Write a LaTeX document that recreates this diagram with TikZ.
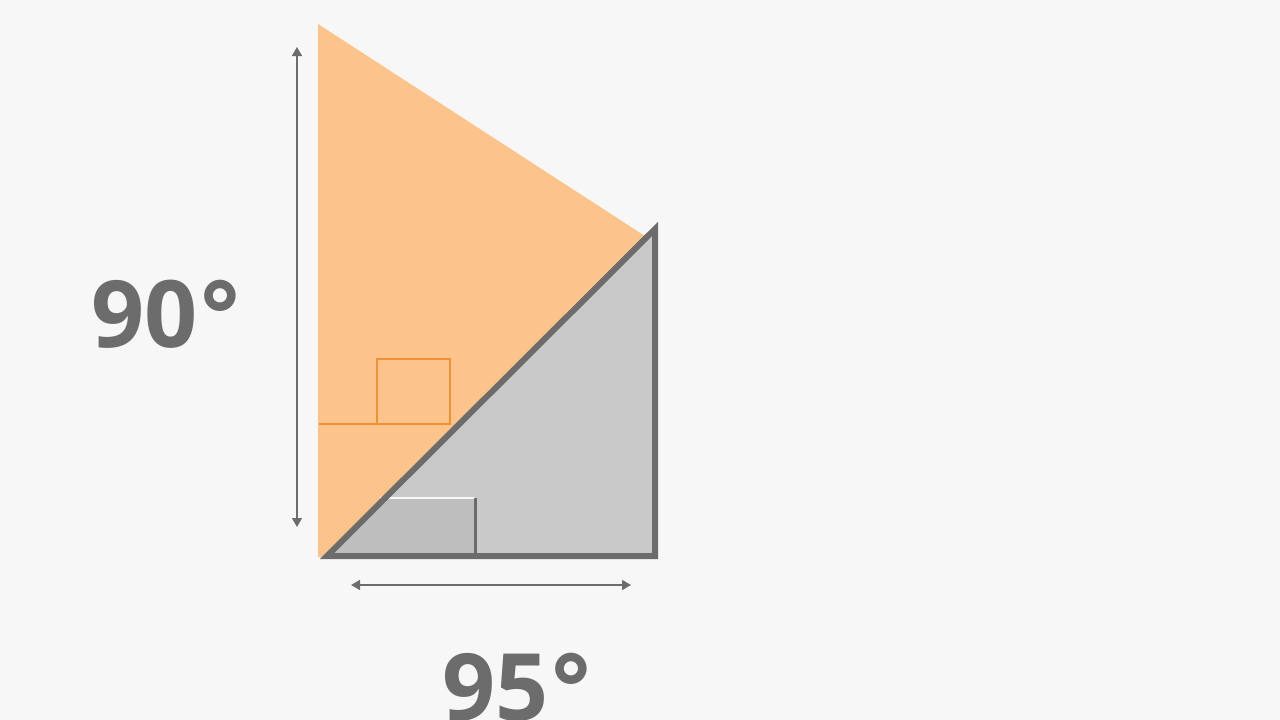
\documentclass[tikz,border=0pt]{standalone}
\usepackage{fontspec}
\setmainfont{Open Sans}
\usetikzlibrary{arrows.meta}
\definecolor{bgc}{HTML}{F7F7F7}
\definecolor{orfill}{HTML}{FCC48B}
\definecolor{orline}{HTML}{EE9233}
\definecolor{gyfill}{HTML}{C9C9C9}
\definecolor{gyin}{HTML}{BEBEBE}
\definecolor{gyline}{HTML}{6C6C6C}
\tikzset{
  dimarrow/.style={draw=gyline, line width=1.6pt, {Triangle[width=10pt,length=9pt]}-{Triangle[width=10pt,length=9pt]}},
  anglabel/.style={text=gyline, font=\bfseries\fontsize{93}{100}\selectfont, inner sep=0pt, anchor=base},
  orthin/.style={draw=orline, line width=2.2pt},
}
\begin{document}
\begin{tikzpicture}[x=1pt,y=-1pt]
\fill[bgc] (0,0) rectangle (1280,720);
\useasboundingbox (0,0) rectangle (1280,720);
% orange triangle (its lower part hidden under the gray one)
\coordinate (oA) at (318,24);
\coordinate (oB) at (318,557);
\coordinate (oC) at (648,238);
\coordinate (oD) at (345,557);
\fill[orfill] (oA) -- (oC) -- (oD) -- (oB) -- cycle;
% orange right-angle marks
\coordinate (l1) at (319,424);
\coordinate (l2) at (450,424);
\draw[orthin] (l1) -- (l2);
\draw[orthin] (377,424) rectangle (450,359);
% gray triangle
\coordinate (gA) at (327,556);
\coordinate (gB) at (655,556);
\coordinate (gC) at (655,229);
\fill[gyfill] (gA) -- (gB) -- (gC) -- cycle;
\fill[gyin] (385,498) -- (475,498) -- (475,556) -- (327,556) -- cycle;
\draw[white!85!gyfill, line width=1.2pt] (380,498) -- (475,498);
\draw[gyline, line width=3pt] (475,498) -- (475,556);
\draw[gyline, line width=6pt, line join=miter] (gA) -- (gB) -- (gC) -- cycle;
% dimension arrows
\coordinate (v1) at (297,47);
\coordinate (v2) at (297,527);
\draw[dimarrow] (v1) -- (v2);
\coordinate (h1) at (351,585);
\coordinate (h2) at (631,585);
\draw[dimarrow] (h1) -- (h2);
% labels
\node[anglabel] (t90) at (166,347) {90\kern3pt°};
\node[anglabel] (t95) at (517,720) {95\kern3pt°};
\end{tikzpicture}
\end{document}
